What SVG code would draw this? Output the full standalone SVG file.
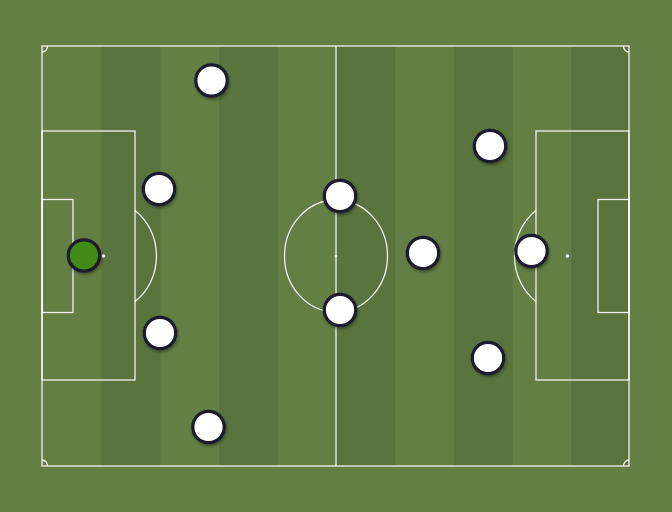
<svg xmlns="http://www.w3.org/2000/svg" width="672" height="512" viewBox="0 0 672 512">
<defs>
<style>
.ln{fill:none;stroke:#ffffff;stroke-width:1.3;stroke-opacity:0.9}
.dk{fill:#59743d}
.spot{fill:#ffffff}
.pl circle{fill:#ffffff;stroke:#1d1b2f;stroke-width:3.2;filter:url(#sh)}
#gk circle{fill:#3f8a14}
</style>
<filter id="sh" x="-40%" y="-40%" width="180%" height="180%">
<feDropShadow dx="1" dy="2" stdDeviation="1.5" flood-color="#000" flood-opacity="0.35"/>
</filter>
</defs>
<rect x="0" y="0" width="672" height="512" fill="#637f44"/>
<g id="stripes">
<rect class="dk" x="101.7" y="46" width="58.7" height="420"/>
<rect class="dk" x="219.1" y="46" width="58.7" height="420"/>
<rect class="dk" x="336.5" y="46" width="58.7" height="420"/>
<rect class="dk" x="453.9" y="46" width="58.7" height="420"/>
<rect class="dk" x="571.3" y="46" width="57.7" height="420"/>
</g>
<g id="pitch">
<rect class="ln" x="42" y="46" width="587" height="420"/>
<line class="ln" x1="336" y1="46" x2="336" y2="466"/>
<ellipse class="ln" cx="336" cy="256" rx="51.5" ry="56"/>
<circle class="spot" cx="336" cy="256" r="1.5"/>
<rect class="ln" x="42" y="131" width="93" height="249"/>
<rect class="ln" x="42" y="199.5" width="31" height="113"/>
<circle class="spot" cx="103.5" cy="256" r="1.8"/>
<path class="ln" d="M135,210.5 A51.5,56 0 0 1 135,301.5"/>
<rect class="ln" x="536" y="131" width="93" height="249"/>
<rect class="ln" x="598" y="199.5" width="31" height="113"/>
<circle class="spot" cx="567.5" cy="256" r="1.8"/>
<path class="ln" d="M536,210.5 A51.5,56 0 0 0 536,301.5"/>
<path class="ln" d="M42,52 A5.5,6 0 0 0 47.5,46"/>
<path class="ln" d="M623.5,46 A5.5,6 0 0 0 629,52"/>
<path class="ln" d="M42,460 A5.5,6 0 0 1 47.5,466"/>
<path class="ln" d="M623.5,466 A5.5,6 0 0 1 629,460"/>
</g>
<g id="connectors"></g>
<g id="gk" class="pl"><circle cx="84" cy="255.5" r="15.7"/></g>
<g id="p2" class="pl"><circle cx="211.5" cy="80.5" r="15.7"/></g>
<g id="p3" class="pl"><circle cx="159" cy="189" r="15.7"/></g>
<g id="p4" class="pl"><circle cx="160" cy="333" r="15.7"/></g>
<g id="p5" class="pl"><circle cx="208.5" cy="427" r="15.7"/></g>
<g id="p6" class="pl"><circle cx="340" cy="196" r="15.7"/></g>
<g id="p7" class="pl"><circle cx="340" cy="310" r="15.7"/></g>
<g id="p8" class="pl"><circle cx="423" cy="253" r="15.7"/></g>
<g id="p9" class="pl"><circle cx="490" cy="146" r="15.7"/></g>
<g id="p10" class="pl"><circle cx="531.5" cy="251" r="15.7"/></g>
<g id="p11" class="pl"><circle cx="488" cy="358" r="15.7"/></g>
</svg>
